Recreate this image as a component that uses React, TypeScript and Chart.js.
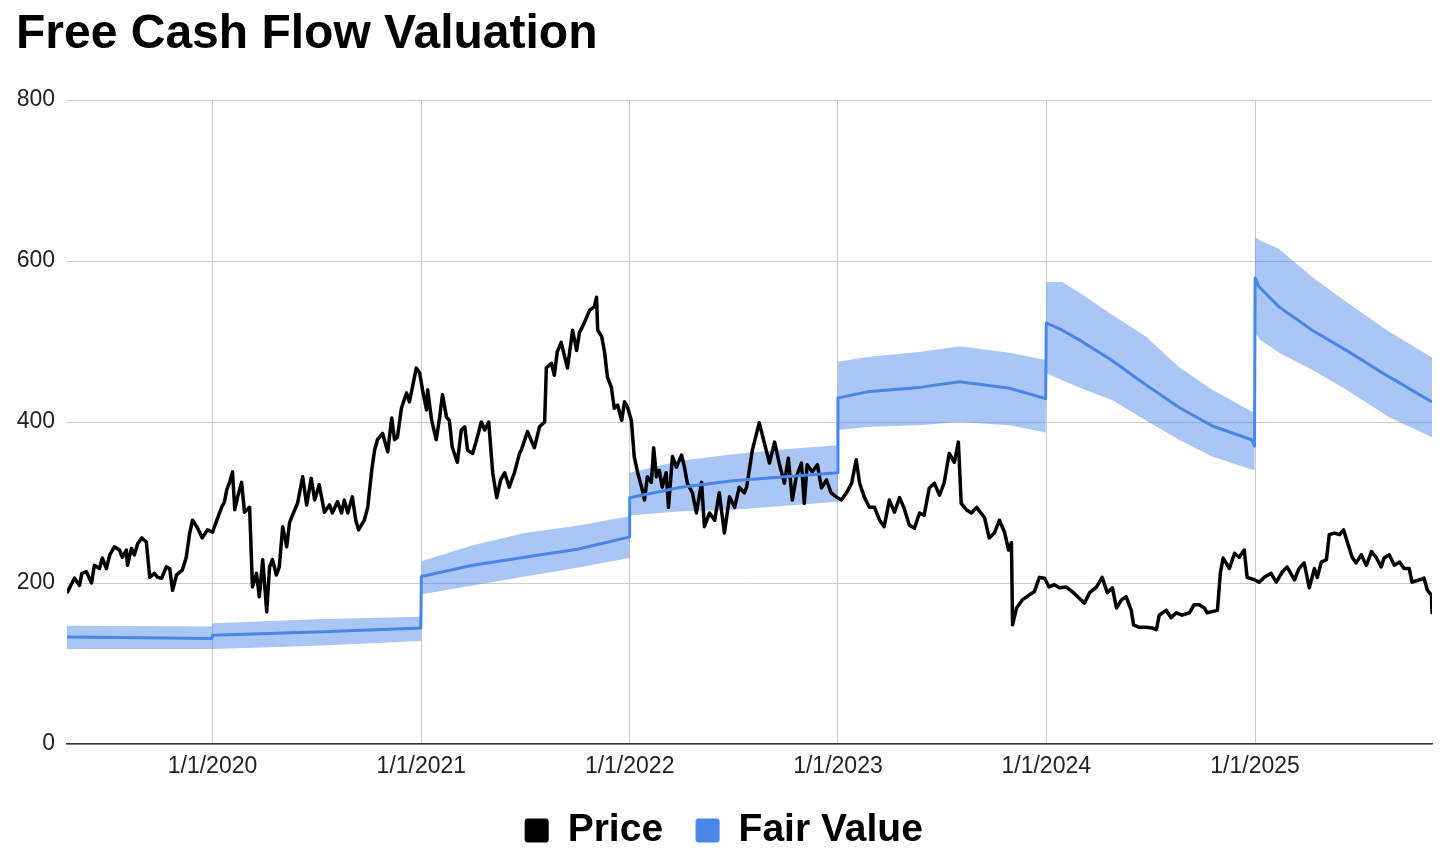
import React, { useEffect, useRef } from 'react';
import { Chart, registerables } from 'chart.js';

Chart.register(...registerables);

const TITLE = 'Free Cash Flow Valuation';
const FONT = '"Liberation Sans", Arial, sans-serif';

const xMinDate = '2019-04-21';
const xMaxDate = '2025-11-07';
const yearTickDates = ['2020-01-01', '2021-01-01', '2022-01-01', '2023-01-01', '2024-01-01', '2025-01-01'];
const yearTickLabels = ['1/1/2020', '1/1/2021', '1/1/2022', '1/1/2023', '1/1/2024', '1/1/2025'];
const yMin = 0;
const yMax = 800;
const yStep = 200;

const legendNames = ['Price', 'Fair Value'];
const legendColors = ['#000000', '#4a86e8'];

// Price (date, value)
const pricePoints: [string, number][] = [
  ['2019-04-22', 189], ['2019-05-04', 206], ['2019-05-13', 197], ['2019-05-17', 212], ['2019-05-25', 214],
  ['2019-06-03', 200], ['2019-06-08', 222], ['2019-06-17', 218], ['2019-06-22', 231], ['2019-06-29', 218],
  ['2019-07-05', 235], ['2019-07-13', 245], ['2019-07-22', 241], ['2019-07-27', 232], ['2019-08-03', 241],
  ['2019-08-05', 222], ['2019-08-12', 243], ['2019-08-17', 235], ['2019-08-23', 249], ['2019-08-30', 256],
  ['2019-09-07', 251], ['2019-09-13', 207], ['2019-09-21', 212], ['2019-09-27', 207], ['2019-10-04', 206],
  ['2019-10-12', 220], ['2019-10-18', 218], ['2019-10-23', 191], ['2019-10-30', 210], ['2019-11-09', 216],
  ['2019-11-16', 232], ['2019-11-22', 262], ['2019-11-27', 278], ['2019-12-06', 268], ['2019-12-14', 256],
  ['2019-12-23', 266],
  ['2020-01-01', 263], ['2020-01-10', 281], ['2020-01-17', 294], ['2020-01-22', 301], ['2020-01-26', 316],
  ['2020-01-31', 325], ['2020-02-05', 338], ['2020-02-09', 291], ['2020-02-14', 307], ['2020-02-21', 325],
  ['2020-02-26', 288], ['2020-03-06', 294], ['2020-03-11', 195], ['2020-03-18', 212], ['2020-03-23', 183],
  ['2020-03-29', 229], ['2020-04-05', 164], ['2020-04-10', 220], ['2020-04-15', 229], ['2020-04-22', 210],
  ['2020-04-27', 220], ['2020-05-03', 270], ['2020-05-10', 245], ['2020-05-15', 275], ['2020-05-20', 284],
  ['2020-05-29', 299], ['2020-06-07', 332], ['2020-06-14', 297], ['2020-06-22', 330], ['2020-06-28', 303],
  ['2020-07-06', 322], ['2020-07-15', 288], ['2020-07-24', 297], ['2020-07-29', 287], ['2020-08-07', 301],
  ['2020-08-14', 287], ['2020-08-19', 303], ['2020-08-25', 287], ['2020-09-02', 307], ['2020-09-08', 278],
  ['2020-09-13', 266], ['2020-09-23', 278], ['2020-09-29', 294], ['2020-10-06', 340], ['2020-10-11', 365],
  ['2020-10-16', 378], ['2020-10-25', 386], ['2020-11-03', 363], ['2020-11-10', 405], ['2020-11-15', 378],
  ['2020-11-20', 381], ['2020-11-27', 417], ['2020-12-06', 436], ['2020-12-11', 425], ['2020-12-16', 442],
  ['2020-12-23', 467], ['2020-12-29', 461],
  ['2021-01-03', 440], ['2021-01-10', 415], ['2021-01-12', 440], ['2021-01-19', 402], ['2021-01-27', 378],
  ['2021-02-02', 406], ['2021-02-07', 434], ['2021-02-14', 406], ['2021-02-19', 402], ['2021-02-24', 369],
  ['2021-03-05', 350], ['2021-03-12', 390], ['2021-03-18', 394], ['2021-03-23', 365], ['2021-04-01', 361],
  ['2021-04-09', 381], ['2021-04-16', 400], ['2021-04-22', 390], ['2021-04-29', 400], ['2021-05-06', 337],
  ['2021-05-13', 306], ['2021-05-20', 328], ['2021-05-27', 337], ['2021-06-04', 319], ['2021-06-13', 337],
  ['2021-06-22', 361], ['2021-06-25', 365], ['2021-07-06', 388], ['2021-07-18', 368], ['2021-07-27', 394],
  ['2021-08-05', 400], ['2021-08-08', 467], ['2021-08-17', 473], ['2021-08-22', 458], ['2021-08-27', 487],
  ['2021-09-03', 499], ['2021-09-14', 467], ['2021-09-23', 514], ['2021-09-30', 489], ['2021-10-05', 511],
  ['2021-10-14', 524], ['2021-10-23', 539], ['2021-10-31', 543], ['2021-11-04', 555], ['2021-11-06', 514],
  ['2021-11-13', 506], ['2021-11-18', 487], ['2021-11-23', 456], ['2021-11-30', 443], ['2021-12-05', 417],
  ['2021-12-11', 421], ['2021-12-18', 402], ['2021-12-23', 425], ['2021-12-28', 419],
  ['2022-01-04', 402], ['2022-01-09', 357], ['2022-01-15', 337], ['2022-01-22', 319], ['2022-01-27', 303],
  ['2022-02-01', 332], ['2022-02-08', 325], ['2022-02-12', 368], ['2022-02-17', 332], ['2022-02-22', 340],
  ['2022-02-27', 319], ['2022-03-06', 337], ['2022-03-10', 294], ['2022-03-17', 357], ['2022-03-24', 344],
  ['2022-04-02', 359], ['2022-04-07', 344], ['2022-04-12', 324], ['2022-04-21', 312], ['2022-04-28', 287],
  ['2022-05-07', 325], ['2022-05-12', 270], ['2022-05-21', 287], ['2022-05-30', 278], ['2022-06-07', 312],
  ['2022-06-16', 262], ['2022-06-25', 307], ['2022-07-04', 294], ['2022-07-12', 319], ['2022-07-21', 312],
  ['2022-07-25', 319], ['2022-08-04', 365], ['2022-08-16', 399], ['2022-08-25', 374], ['2022-09-03', 349],
  ['2022-09-12', 375], ['2022-09-20', 349], ['2022-09-29', 324], ['2022-10-06', 355], ['2022-10-13', 303],
  ['2022-10-20', 332], ['2022-10-29', 349], ['2022-11-03', 299], ['2022-11-08', 347], ['2022-11-17', 338],
  ['2022-11-26', 347], ['2022-12-03', 318], ['2022-12-12', 328], ['2022-12-20', 312], ['2022-12-29', 307],
  ['2023-01-07', 303], ['2023-01-16', 312], ['2023-01-25', 324], ['2023-02-02', 353], ['2023-02-08', 324],
  ['2023-02-16', 307], ['2023-02-25', 294], ['2023-03-06', 294], ['2023-03-15', 278], ['2023-03-23', 270],
  ['2023-04-01', 303], ['2023-04-10', 288], ['2023-04-19', 306], ['2023-04-27', 293], ['2023-05-06', 272],
  ['2023-05-15', 268], ['2023-05-24', 287], ['2023-06-01', 284], ['2023-06-10', 318], ['2023-06-19', 324],
  ['2023-06-28', 309], ['2023-07-06', 324], ['2023-07-15', 361], ['2023-07-24', 350], ['2023-07-31', 375],
  ['2023-08-05', 299], ['2023-08-14', 291], ['2023-08-23', 287], ['2023-09-01', 294], ['2023-09-15', 281],
  ['2023-09-23', 256], ['2023-10-02', 262], ['2023-10-11', 278], ['2023-10-20', 263], ['2023-10-27', 241],
  ['2023-11-01', 250], ['2023-11-03', 148], ['2023-11-10', 169], ['2023-11-20', 179], ['2023-12-02', 185],
  ['2023-12-11', 189], ['2023-12-20', 207], ['2023-12-29', 206],
  ['2024-01-06', 195], ['2024-01-15', 198], ['2024-01-24', 194], ['2024-02-05', 195], ['2024-02-16', 189],
  ['2024-02-28', 181], ['2024-03-08', 175], ['2024-03-17', 188], ['2024-03-29', 195], ['2024-04-08', 207],
  ['2024-04-17', 188], ['2024-04-26', 194], ['2024-05-03', 169], ['2024-05-12', 179], ['2024-05-20', 183],
  ['2024-05-29', 166], ['2024-06-02', 148], ['2024-06-12', 145], ['2024-06-24', 145], ['2024-07-05', 144],
  ['2024-07-12', 142], ['2024-07-17', 160], ['2024-07-29', 166], ['2024-08-07', 157], ['2024-08-16', 163],
  ['2024-08-26', 160], ['2024-09-08', 163], ['2024-09-16', 173], ['2024-09-25', 173], ['2024-10-04', 169],
  ['2024-10-09', 163], ['2024-10-27', 166], ['2024-11-01', 212], ['2024-11-06', 231], ['2024-11-17', 218],
  ['2024-11-26', 237], ['2024-12-04', 232], ['2024-12-13', 241], ['2024-12-18', 207], ['2024-12-31', 204],
  ['2025-01-08', 201], ['2025-01-17', 207], ['2025-01-29', 212], ['2025-02-07', 201], ['2025-02-18', 214],
  ['2025-02-26', 220], ['2025-03-11', 204], ['2025-03-19', 218], ['2025-03-28', 225], ['2025-04-06', 194],
  ['2025-04-15', 218], ['2025-04-20', 207], ['2025-04-27', 226], ['2025-05-06', 229], ['2025-05-11', 260],
  ['2025-05-20', 262], ['2025-05-29', 260], ['2025-06-05', 266], ['2025-06-12', 250], ['2025-06-20', 232],
  ['2025-06-27', 225], ['2025-07-06', 235], ['2025-07-15', 222], ['2025-07-24', 239], ['2025-08-01', 232],
  ['2025-08-10', 220], ['2025-08-15', 231], ['2025-08-24', 235], ['2025-09-02', 222], ['2025-09-11', 226],
  ['2025-09-19', 218], ['2025-09-28', 218], ['2025-10-03', 201], ['2025-10-16', 204], ['2025-10-24', 206],
  ['2025-10-30', 191], ['2025-11-06', 185], ['2025-11-07', 163],
];

// Fair value line and its interval band
const fairDates = [
  '2019-04-21', '2019-12-31',
  '2020-01-01', '2020-07-01', '2020-12-31',
  '2021-01-01', '2021-04-01', '2021-07-01', '2021-10-01', '2021-12-31',
  '2022-01-01', '2022-04-01', '2022-07-01', '2022-10-01', '2022-12-31',
  '2023-01-01', '2023-02-25', '2023-05-24', '2023-08-02', '2023-10-29', '2023-12-31',
  '2024-01-01', '2024-01-29', '2024-02-28', '2024-04-26', '2024-06-24', '2024-08-21', '2024-10-18', '2024-12-26', '2024-12-31',
  '2025-01-01', '2025-01-08', '2025-02-12', '2025-04-11', '2025-06-10', '2025-08-24', '2025-11-07',
];
const fairValues = [
  133, 131,
  135, 139, 144,
  208, 222, 232, 242, 257,
  306, 319, 327, 332, 337,
  430, 438, 443, 450, 442, 429,
  523, 514, 502, 476, 446, 418, 395, 378, 370,
  579, 568, 543, 514, 489, 456, 425,
];
const fairUpper = [
  147, 146,
  150, 155, 158,
  227, 247, 262, 271, 283,
  337, 352, 360, 366, 371,
  475, 481, 487, 494, 486, 477,
  574, 574, 561, 533, 506, 468, 440, 413, 412,
  630, 626, 615, 580, 549, 512, 480,
];
const fairLower = [
  118, 118,
  118, 122, 128,
  186, 197, 208, 219, 231,
  284, 289, 291, 296, 301,
  390, 394, 396, 400, 396, 387,
  461, 452, 443, 427, 402, 378, 357, 341, 340,
  512, 503, 486, 465, 440, 406, 381,
];

const t = (d: string) => Date.parse(d + 'T00:00:00Z');

export default function App() {
  const ref = useRef<HTMLCanvasElement | null>(null);

  useEffect(() => {
    if (!ref.current) return;
    const chart = new Chart(ref.current, {
      type: 'line',
      data: {
        datasets: [
          {
            label: 'Price',
            data: pricePoints.map(([d, v]) => ({ x: t(d), y: v })),
            borderColor: '#000000',
            borderWidth: 3.5,
            pointRadius: 0,
            fill: false,
            tension: 0,
            borderJoinStyle: 'round',
            borderCapStyle: 'round',
            order: 2,
          },
          {
            label: 'Fair Value',
            data: fairDates.map((d, i) => ({ x: t(d), y: fairValues[i] })),
            borderColor: '#4a86e8',
            borderWidth: 3,
            pointRadius: 0,
            fill: false,
            tension: 0,
            borderJoinStyle: 'round',
            order: 1,
          },
          {
            label: 'Fair Value upper',
            data: fairDates.map((d, i) => ({ x: t(d), y: fairUpper[i] })),
            borderColor: 'rgba(0,0,0,0)',
            borderWidth: 0,
            pointRadius: 0,
            fill: false,
            tension: 0,
            order: 3,
          },
          {
            label: 'Fair Value lower',
            data: fairDates.map((d, i) => ({ x: t(d), y: fairLower[i] })),
            borderColor: 'rgba(0,0,0,0)',
            borderWidth: 0,
            pointRadius: 0,
            fill: '-1',
            backgroundColor: 'rgba(74,134,232,0.47)',
            tension: 0,
            order: 3,
          },
        ],
      },
      options: {
        animation: false,
        responsive: true,
        maintainAspectRatio: false,
        events: [],
        layout: { padding: { left: 16, right: 20, top: 0, bottom: 4 } },
        plugins: {
          tooltip: { enabled: false },
          title: {
            display: true,
            text: TITLE,
            align: 'start',
            color: '#000000',
            font: { family: FONT, size: 48, weight: 'bold' },
            padding: { top: 6, bottom: 36.4 },
          },
          legend: {
            display: true,
            position: 'bottom',
            align: 'center',
            labels: {
              boxWidth: 23,
              boxHeight: 23,
              padding: 33,
              color: '#000000',
              font: { family: FONT, size: 39, weight: 'bold' },
              useBorderRadius: true,
              borderRadius: 2,
              generateLabels: () =>
                legendNames.map((name, i) => ({
                  text: name,
                  fillStyle: legendColors[i],
                  strokeStyle: legendColors[i],
                  lineWidth: 1,
                  hidden: false,
                  datasetIndex: i,
                  fontColor: '#000000',
                  borderRadius: 2,
                })),
            },
          },
        },
        scales: {
          x: {
            type: 'linear',
            min: t(xMinDate),
            max: t(xMaxDate),
            afterBuildTicks: (scale: any) => {
              scale.ticks = yearTickDates.map((d) => ({ value: t(d) }));
            },
            afterFit: (scale: any) => {
              scale.height = 34;
            },
            ticks: {
              autoSkip: false,
              maxRotation: 0,
              padding: 9,
              color: '#222222',
              font: { family: FONT, size: 23 },
              callback: (_v: any, i: number) => yearTickLabels[i],
            },
            grid: { color: '#cccccc', lineWidth: 1, drawTicks: false },
            border: { display: true, color: '#333333', width: 1.5 },
          },
          y: {
            type: 'linear',
            min: yMin,
            max: yMax,
            afterFit: (scale: any) => {
              scale.width = 51;
            },
            ticks: {
              stepSize: yStep,
              padding: 12,
              color: '#222222',
              font: { family: FONT, size: 23 },
            },
            grid: { color: '#cccccc', lineWidth: 1, drawTicks: false },
            border: { display: false },
          },
        },
      },
    } as any);
    return () => chart.destroy();
  }, []);

  return (
    <div style={{ position: 'fixed', left: 0, top: 0, width: 1452, height: 864, background: '#ffffff' }}>
      <canvas ref={ref} />
    </div>
  );
}
